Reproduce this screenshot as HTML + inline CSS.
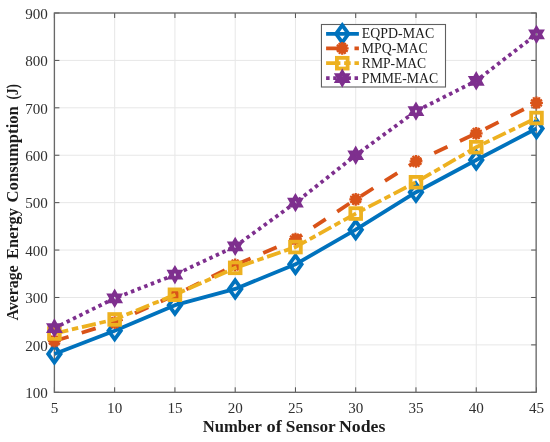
<!DOCTYPE html><html><head><meta charset="utf-8"><title>Average Energy Consumption</title><style>html,body{margin:0;padding:0;background:#fff}svg{display:block}text{font-family:"Liberation Serif","DejaVu Serif",serif}</style></head><body>
<svg width="550" height="442" viewBox="0 0 550 442">
<rect width="550" height="442" fill="#fff"/>
<path d="M114.66 13.0V392.3M174.93 13.0V392.3M235.19 13.0V392.3M295.45 13.0V392.3M355.71 13.0V392.3M415.98 13.0V392.3M476.24 13.0V392.3M54.4 344.89H536.15M54.4 297.48H536.15M54.4 250.06H536.15M54.4 202.65H536.15M54.4 155.24H536.15M54.4 107.82H536.15M54.4 60.41H536.15" stroke="#e7e7e7" stroke-width="1" fill="none"/>
<path d="M54.40 392.3v-5M54.40 13.0v5M114.66 392.3v-5M114.66 13.0v5M174.93 392.3v-5M174.93 13.0v5M235.19 392.3v-5M235.19 13.0v5M295.45 392.3v-5M295.45 13.0v5M355.71 392.3v-5M355.71 13.0v5M415.98 392.3v-5M415.98 13.0v5M476.24 392.3v-5M476.24 13.0v5M536.50 392.3v-5M536.50 13.0v5M54.4 392.30h5M536.15 392.30h-5M54.4 344.89h5M536.15 344.89h-5M54.4 297.48h5M536.15 297.48h-5M54.4 250.06h5M536.15 250.06h-5M54.4 202.65h5M536.15 202.65h-5M54.4 155.24h5M536.15 155.24h-5M54.4 107.82h5M536.15 107.82h-5M54.4 60.41h5M536.15 60.41h-5M54.4 13.00h5M536.15 13.00h-5" stroke="#505050" stroke-width="1" fill="none"/>
<rect x="54.4" y="13.0" width="481.75" height="379.3" fill="none" stroke="#686868" stroke-width="1.35"/>
<polyline points="54.40,353.90 114.66,330.66 174.93,305.20 235.19,288.94 295.45,264.29 355.71,229.68 415.98,192.22 476.24,159.98 536.50,128.54" fill="none" stroke="#0072BD" stroke-width="3.8" stroke-linejoin="round"/>
<path d="M54.40 345.30L60.60 353.90L54.40 362.50L48.20 353.90Z" fill="none" stroke="#0072BD" stroke-width="3.8" stroke-linejoin="miter"/>
<path d="M114.66 322.06L120.86 330.66L114.66 339.26L108.46 330.66Z" fill="none" stroke="#0072BD" stroke-width="3.8" stroke-linejoin="miter"/>
<path d="M174.93 296.60L181.12 305.20L174.93 313.80L168.73 305.20Z" fill="none" stroke="#0072BD" stroke-width="3.8" stroke-linejoin="miter"/>
<path d="M235.19 280.34L241.39 288.94L235.19 297.54L228.99 288.94Z" fill="none" stroke="#0072BD" stroke-width="3.8" stroke-linejoin="miter"/>
<path d="M295.45 255.69L301.65 264.29L295.45 272.89L289.25 264.29Z" fill="none" stroke="#0072BD" stroke-width="3.8" stroke-linejoin="miter"/>
<path d="M355.71 221.08L361.91 229.68L355.71 238.28L349.51 229.68Z" fill="none" stroke="#0072BD" stroke-width="3.8" stroke-linejoin="miter"/>
<path d="M415.98 183.62L422.18 192.22L415.98 200.82L409.78 192.22Z" fill="none" stroke="#0072BD" stroke-width="3.8" stroke-linejoin="miter"/>
<path d="M476.24 151.38L482.44 159.98L476.24 168.58L470.04 159.98Z" fill="none" stroke="#0072BD" stroke-width="3.8" stroke-linejoin="miter"/>
<path d="M536.50 119.94L542.70 128.54L536.50 137.14L530.30 128.54Z" fill="none" stroke="#0072BD" stroke-width="3.8" stroke-linejoin="miter"/>
<polyline points="54.40,341.09 114.66,322.60 174.93,295.10 235.19,265.00 295.45,239.16 355.71,199.33 415.98,161.40 476.24,133.43 536.50,102.85" fill="none" stroke="#D95319" stroke-width="3.8" stroke-linejoin="round" stroke-dasharray="14.6 13.77" stroke-dashoffset="-0.2"/>
<circle cx="54.40" cy="341.09" r="5.2" fill="#D95319"/><path d="M48.00 341.09L60.80 341.09M48.86 337.89L59.94 344.29M51.20 335.55L57.60 346.64M54.40 334.69L54.40 347.49M57.60 335.55L51.20 346.64M59.94 337.89L48.86 344.29" fill="none" stroke="#D95319" stroke-width="2.3"/>
<circle cx="114.66" cy="322.60" r="5.2" fill="#D95319"/><path d="M108.26 322.60L121.06 322.60M109.12 319.40L120.21 325.80M111.46 317.06L117.86 328.15M114.66 316.20L114.66 329.00M117.86 317.06L111.46 328.15M120.21 319.40L109.12 325.80" fill="none" stroke="#D95319" stroke-width="2.3"/>
<circle cx="174.93" cy="295.10" r="5.2" fill="#D95319"/><path d="M168.53 295.10L181.33 295.10M169.38 291.90L180.47 298.30M171.73 289.56L178.12 300.65M174.93 288.70L174.93 301.50M178.12 289.56L171.73 300.65M180.47 291.90L169.38 298.30" fill="none" stroke="#D95319" stroke-width="2.3"/>
<circle cx="235.19" cy="265.00" r="5.2" fill="#D95319"/><path d="M228.79 265.00L241.59 265.00M229.64 261.80L240.73 268.20M231.99 259.45L238.39 270.54M235.19 258.60L235.19 271.40M238.39 259.45L231.99 270.54M240.73 261.80L229.64 268.20" fill="none" stroke="#D95319" stroke-width="2.3"/>
<circle cx="295.45" cy="239.16" r="5.2" fill="#D95319"/><path d="M289.05 239.16L301.85 239.16M289.91 235.96L300.99 242.36M292.25 233.62L298.65 244.70M295.45 232.76L295.45 245.56M298.65 233.62L292.25 244.70M300.99 235.96L289.91 242.36" fill="none" stroke="#D95319" stroke-width="2.3"/>
<circle cx="355.71" cy="199.33" r="5.2" fill="#D95319"/><path d="M349.31 199.33L362.11 199.33M350.17 196.13L361.26 202.53M352.51 193.79L358.91 204.87M355.71 192.93L355.71 205.73M358.91 193.79L352.51 204.87M361.26 196.13L350.17 202.53" fill="none" stroke="#D95319" stroke-width="2.3"/>
<circle cx="415.98" cy="161.40" r="5.2" fill="#D95319"/><path d="M409.58 161.40L422.38 161.40M410.43 158.20L421.52 164.60M412.78 155.86L419.18 166.94M415.98 155.00L415.98 167.80M419.18 155.86L412.78 166.94M421.52 158.20L410.43 164.60" fill="none" stroke="#D95319" stroke-width="2.3"/>
<circle cx="476.24" cy="133.43" r="5.2" fill="#D95319"/><path d="M469.84 133.43L482.64 133.43M470.69 130.23L481.78 136.63M473.04 127.89L479.44 138.97M476.24 127.03L476.24 139.83M479.44 127.89L473.04 138.97M481.78 130.23L470.69 136.63" fill="none" stroke="#D95319" stroke-width="2.3"/>
<circle cx="536.50" cy="102.85" r="5.2" fill="#D95319"/><path d="M530.10 102.85L542.90 102.85M530.96 99.65L542.04 106.05M533.30 97.30L539.70 108.39M536.50 96.45L536.50 109.25M539.70 97.30L533.30 108.39M542.04 99.65L530.96 106.05" fill="none" stroke="#D95319" stroke-width="2.3"/>
<polyline points="54.40,333.51 114.66,319.43 174.93,294.77 235.19,267.84 295.45,247.08 355.71,213.55 415.98,182.26 476.24,147.18 536.50,118.02" fill="none" stroke="#EDB120" stroke-width="3.8" stroke-linejoin="round" stroke-dasharray="14.3 3.75 6.5 3.8" stroke-dashoffset="0.1"/>
<rect x="49.05" y="328.16" width="10.7" height="10.7" fill="none" stroke="#EDB120" stroke-width="3.8"/>
<rect x="109.31" y="314.08" width="10.7" height="10.7" fill="none" stroke="#EDB120" stroke-width="3.8"/>
<rect x="169.58" y="289.42" width="10.7" height="10.7" fill="none" stroke="#EDB120" stroke-width="3.8"/>
<rect x="229.84" y="262.49" width="10.7" height="10.7" fill="none" stroke="#EDB120" stroke-width="3.8"/>
<rect x="290.10" y="241.73" width="10.7" height="10.7" fill="none" stroke="#EDB120" stroke-width="3.8"/>
<rect x="350.36" y="208.20" width="10.7" height="10.7" fill="none" stroke="#EDB120" stroke-width="3.8"/>
<rect x="410.62" y="176.91" width="10.7" height="10.7" fill="none" stroke="#EDB120" stroke-width="3.8"/>
<rect x="470.89" y="141.83" width="10.7" height="10.7" fill="none" stroke="#EDB120" stroke-width="3.8"/>
<rect x="531.15" y="112.67" width="10.7" height="10.7" fill="none" stroke="#EDB120" stroke-width="3.8"/>
<polyline points="54.40,328.06 114.66,298.28 174.93,274.72 235.19,246.36 295.45,202.65 355.71,155.24 415.98,111.14 476.24,80.80 536.50,34.34" fill="none" stroke="#7E2F8E" stroke-width="3.8" stroke-linejoin="round" stroke-dasharray="3.5 3.608" stroke-dashoffset="0.55"/>
<path d="M54.40 318.36L57.20 323.21L62.80 323.21L60.00 328.06L62.80 332.91L57.20 332.91L54.40 337.76L51.60 332.91L46.00 332.91L48.80 328.06L46.00 323.21L51.60 323.21ZM53.50 328.06a0.9 1.5 0 1 0 1.8 0a0.9 1.5 0 1 0 -1.8 0Z" fill="#7E2F8E" fill-rule="evenodd"/>
<path d="M114.66 288.58L117.46 293.43L123.06 293.43L120.26 298.28L123.06 303.13L117.46 303.13L114.66 307.98L111.86 303.13L106.26 303.13L109.06 298.28L106.26 293.43L111.86 293.43ZM113.76 298.28a0.9 1.5 0 1 0 1.8 0a0.9 1.5 0 1 0 -1.8 0Z" fill="#7E2F8E" fill-rule="evenodd"/>
<path d="M174.93 265.02L177.73 269.87L183.33 269.87L180.53 274.72L183.33 279.57L177.73 279.57L174.93 284.42L172.12 279.57L166.52 279.57L169.32 274.72L166.52 269.87L172.12 269.87ZM174.03 274.72a0.9 1.5 0 1 0 1.8 0a0.9 1.5 0 1 0 -1.8 0Z" fill="#7E2F8E" fill-rule="evenodd"/>
<path d="M235.19 236.66L237.99 241.51L243.59 241.51L240.79 246.36L243.59 251.21L237.99 251.21L235.19 256.06L232.39 251.21L226.79 251.21L229.59 246.36L226.79 241.51L232.39 241.51ZM234.29 246.36a0.9 1.5 0 1 0 1.8 0a0.9 1.5 0 1 0 -1.8 0Z" fill="#7E2F8E" fill-rule="evenodd"/>
<path d="M295.45 192.95L298.25 197.80L303.85 197.80L301.05 202.65L303.85 207.50L298.25 207.50L295.45 212.35L292.65 207.50L287.05 207.50L289.85 202.65L287.05 197.80L292.65 197.80ZM294.55 202.65a0.9 1.5 0 1 0 1.8 0a0.9 1.5 0 1 0 -1.8 0Z" fill="#7E2F8E" fill-rule="evenodd"/>
<path d="M355.71 145.54L358.51 150.39L364.11 150.39L361.31 155.24L364.11 160.09L358.51 160.09L355.71 164.94L352.91 160.09L347.31 160.09L350.11 155.24L347.31 150.39L352.91 150.39ZM354.81 155.24a0.9 1.5 0 1 0 1.8 0a0.9 1.5 0 1 0 -1.8 0Z" fill="#7E2F8E" fill-rule="evenodd"/>
<path d="M415.98 101.44L418.78 106.29L424.38 106.29L421.58 111.14L424.38 115.99L418.78 115.99L415.98 120.84L413.17 115.99L407.57 115.99L410.37 111.14L407.57 106.29L413.17 106.29ZM415.08 111.14a0.9 1.5 0 1 0 1.8 0a0.9 1.5 0 1 0 -1.8 0Z" fill="#7E2F8E" fill-rule="evenodd"/>
<path d="M476.24 71.10L479.04 75.95L484.64 75.95L481.84 80.80L484.64 85.65L479.04 85.65L476.24 90.50L473.44 85.65L467.84 85.65L470.64 80.80L467.84 75.95L473.44 75.95ZM475.34 80.80a0.9 1.5 0 1 0 1.8 0a0.9 1.5 0 1 0 -1.8 0Z" fill="#7E2F8E" fill-rule="evenodd"/>
<path d="M536.50 24.64L539.30 29.49L544.90 29.49L542.10 34.34L544.90 39.19L539.30 39.19L536.50 44.04L533.70 39.19L528.10 39.19L530.90 34.34L528.10 29.49L533.70 29.49ZM535.60 34.34a0.9 1.5 0 1 0 1.8 0a0.9 1.5 0 1 0 -1.8 0Z" fill="#7E2F8E" fill-rule="evenodd"/>
<text x="54.40" y="412.9" font-size="15.1" text-anchor="middle" fill="#303030">5</text>
<text x="114.66" y="412.9" font-size="15.1" text-anchor="middle" fill="#303030">10</text>
<text x="174.93" y="412.9" font-size="15.1" text-anchor="middle" fill="#303030">15</text>
<text x="235.19" y="412.9" font-size="15.1" text-anchor="middle" fill="#303030">20</text>
<text x="295.45" y="412.9" font-size="15.1" text-anchor="middle" fill="#303030">25</text>
<text x="355.71" y="412.9" font-size="15.1" text-anchor="middle" fill="#303030">30</text>
<text x="415.98" y="412.9" font-size="15.1" text-anchor="middle" fill="#303030">35</text>
<text x="476.24" y="412.9" font-size="15.1" text-anchor="middle" fill="#303030">40</text>
<text x="536.50" y="412.9" font-size="15.1" text-anchor="middle" fill="#303030">45</text>
<text x="47.9" y="398.00" font-size="15.1" text-anchor="end" fill="#303030">100</text>
<text x="47.9" y="350.59" font-size="15.1" text-anchor="end" fill="#303030">200</text>
<text x="47.9" y="303.18" font-size="15.1" text-anchor="end" fill="#303030">300</text>
<text x="47.9" y="255.76" font-size="15.1" text-anchor="end" fill="#303030">400</text>
<text x="47.9" y="208.35" font-size="15.1" text-anchor="end" fill="#303030">500</text>
<text x="47.9" y="160.94" font-size="15.1" text-anchor="end" fill="#303030">600</text>
<text x="47.9" y="113.52" font-size="15.1" text-anchor="end" fill="#303030">700</text>
<text x="47.9" y="66.11" font-size="15.1" text-anchor="end" fill="#303030">800</text>
<text x="47.9" y="18.70" font-size="15.1" text-anchor="end" fill="#303030">900</text>
<text x="202.8" y="432" font-size="15.8" font-weight="bold" fill="#1c1c1c" textLength="59.0" lengthAdjust="spacingAndGlyphs">Number</text>
<text x="266.6" y="432" font-size="15.8" font-weight="bold" fill="#1c1c1c" textLength="15.3" lengthAdjust="spacingAndGlyphs">of</text>
<text x="285.8" y="432" font-size="15.8" font-weight="bold" fill="#1c1c1c" textLength="49.9" lengthAdjust="spacingAndGlyphs">Sensor</text>
<text x="339.0" y="432" font-size="15.8" font-weight="bold" fill="#1c1c1c" textLength="46.4" lengthAdjust="spacingAndGlyphs">Nodes</text>
<g transform="translate(18.1 0) rotate(-90)">
<text x="-320.6" y="0" font-size="15.8" font-weight="bold" fill="#1c1c1c" textLength="55.2" lengthAdjust="spacingAndGlyphs">Average</text>
<text x="-259" y="0" font-size="15.8" font-weight="bold" fill="#1c1c1c" textLength="51.0" lengthAdjust="spacingAndGlyphs">Energy</text>
<text x="-202.5" y="0" font-size="15.8" font-weight="bold" fill="#1c1c1c" textLength="96.4" lengthAdjust="spacingAndGlyphs">Consumption</text>
<text x="-99.4" y="0" font-size="15.8" font-weight="bold" fill="#1c1c1c" textLength="15.4" lengthAdjust="spacingAndGlyphs">(J)</text>
</g>
<rect x="321.45" y="24.5" width="124.05000000000001" height="62.5" fill="#fff" stroke="#606060" stroke-width="1.1"/>
<path d="M326.1 33.8H358.9" stroke="#0072BD" stroke-width="3.8" fill="none"/>
<path d="M342.25 25.20L348.45 33.80L342.25 42.40L336.05 33.80Z" fill="none" stroke="#0072BD" stroke-width="3.8" stroke-linejoin="miter"/>
<text x="361.8" y="38.40" font-size="15.6" fill="#1c1c1c" textLength="72.5" lengthAdjust="spacingAndGlyphs">EQPD-MAC</text>
<path d="M326.1 48.3H358.9" stroke="#D95319" stroke-width="3.8" fill="none" stroke-dasharray="14.6 13.77"/>
<circle cx="342.25" cy="48.30" r="5.2" fill="#D95319"/><path d="M335.85 48.30L348.65 48.30M336.71 45.10L347.79 51.50M339.05 42.76L345.45 53.84M342.25 41.90L342.25 54.70M345.45 42.76L339.05 53.84M347.79 45.10L336.71 51.50" fill="none" stroke="#D95319" stroke-width="2.3"/>
<text x="361.8" y="53.20" font-size="15.6" fill="#1c1c1c" textLength="65.8" lengthAdjust="spacingAndGlyphs">MPQ-MAC</text>
<path d="M326.1 63.2H358.9" stroke="#EDB120" stroke-width="3.8" fill="none" stroke-dasharray="14.3 3.75 6.5 3.8"/>
<rect x="336.90" y="57.85" width="10.7" height="10.7" fill="none" stroke="#EDB120" stroke-width="3.8"/>
<text x="361.8" y="67.70" font-size="15.6" fill="#1c1c1c" textLength="64.4" lengthAdjust="spacingAndGlyphs">RMP-MAC</text>
<path d="M326.1 78.1H358.9" stroke="#7E2F8E" stroke-width="3.8" fill="none" stroke-dasharray="3.5 3.608"/>
<path d="M342.25 68.40L345.05 73.25L350.65 73.25L347.85 78.10L350.65 82.95L345.05 82.95L342.25 87.80L339.45 82.95L333.85 82.95L336.65 78.10L333.85 73.25L339.45 73.25ZM341.35 78.10a0.9 1.5 0 1 0 1.8 0a0.9 1.5 0 1 0 -1.8 0Z" fill="#7E2F8E" fill-rule="evenodd"/>
<text x="361.8" y="82.75" font-size="15.6" fill="#1c1c1c" textLength="76.3" lengthAdjust="spacingAndGlyphs">PMME-MAC</text>
</svg></body></html>
